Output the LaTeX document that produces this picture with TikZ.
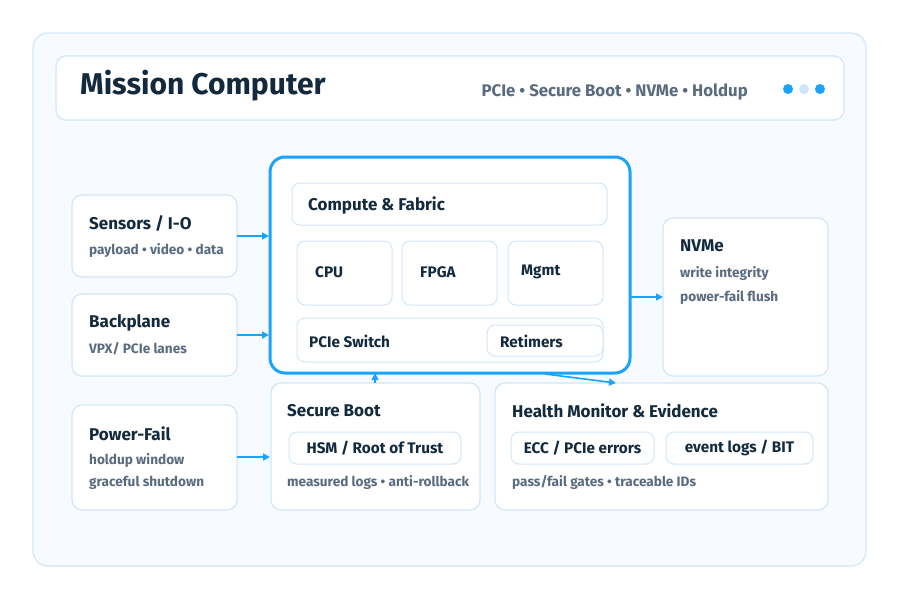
\documentclass[tikz,border=0pt]{standalone}
\usepackage{fontspec}
\setmainfont{Fira Sans}
\usetikzlibrary{arrows.meta}
\definecolor{bd}{HTML}{D3E6F8}
\definecolor{bg}{HTML}{F7FAFE}
\definecolor{ac}{HTML}{1AA3FF}
\definecolor{tx}{HTML}{13293D}
\definecolor{st}{HTML}{5A6B80}
\definecolor{lt}{HTML}{CFE6FA}
\begin{document}
\begin{tikzpicture}[x=1pt,y=-1pt,
 box/.style={draw=bd,line width=1.2pt,fill=white,rounded corners=10pt},
 ibox/.style={draw=bd,line width=1pt,fill=white,rounded corners=8pt},
 ttl/.style={anchor=west,text=tx,font=\fontsize{17}{19}\selectfont\bfseries,inner sep=0},
 lbl/.style={anchor=west,text=tx,font=\fontsize{15.3}{17}\selectfont\bfseries,inner sep=0},
 sub/.style={anchor=west,text=st,font=\fontsize{13.6}{15}\selectfont\bfseries,inner sep=0},
 arr/.style={draw=ac,line width=1.6pt,-{Triangle[length=7pt,width=7pt]}}]
\useasboundingbox (0,0) rectangle (900,600);
\fill[white] (0,0) rectangle (900,600);
\draw[draw=bd,fill=bg,line width=1.2pt,rounded corners=15pt] (33,33) rectangle (866,566);
\draw[box] (56,56) rectangle (844,120);
\node[anchor=west,text=tx,font=\fontsize{30}{32}\selectfont\bfseries,inner sep=0] (title) at (80,86) {Mission Computer};
\node[anchor=east,text=st,font=\fontsize{16.8}{18}\selectfont\bfseries,inner sep=0] (subt) at (748,92) {PCIe • Secure Boot • NVMe • Holdup};
\fill[ac] (788,89) circle (5); \fill[lt] (804,89) circle (5); \fill[ac] (820,89) circle (5);
% left
\draw[box] (72,195) rectangle (237,277); \coordinate (sen) at (237,236);
\node[ttl] at (89,224) {Sensors / I-O}; \node[sub] at (89,250) {payload • video • data};
\draw[box] (72,294) rectangle (237,376); \coordinate (bp) at (237,335);
\node[ttl] at (89,323) {Backplane}; \node[sub] at (89,349) {VPX/ PCIe lanes};
\draw[box] (72,405) rectangle (237,510); \coordinate (pf) at (237,457);
\node[ttl] at (89,434) {Power-Fail}; \node[sub] at (89,460) {holdup window}; \node[sub] at (89,483) {graceful shutdown};
% compute
\draw[draw=ac,line width=3pt,fill=white,rounded corners=15pt] (270,157) rectangle (630,373);
\draw[ibox] (292,183) rectangle (607,225); \node[ttl] at (308,205) {Compute \& Fabric};
\draw[ibox] (297,241) rectangle (392,305); \node[lbl] at (315,272) {CPU};
\draw[ibox] (402,241) rectangle (497,305); \node[lbl] at (420,272) {FPGA};
\draw[ibox] (508,241) rectangle (603,305); \node[lbl] at (521,272) {Mgmt};
\draw[ibox] (297,318) rectangle (603,362); \node[lbl] at (309,341) {PCIe Switch};
\draw[ibox] (487,325) rectangle (603,356); \node[lbl] at (500,341) {Retimers};
% nvme
\draw[box] (663,218) rectangle (828,376);
\node[ttl] at (680,246) {NVMe}; \node[sub] at (680,273) {write integrity}; \node[sub] at (680,297) {power-fail flush};
% secure boot
\draw[box] (271,383) rectangle (480,510);
\node[ttl] at (287,411) {Secure Boot};
\draw[ibox] (289,432) rectangle (461,464); \node[lbl,anchor=center] at (375,448) {HSM / Root of Trust};
\node[sub] at (287,482) {measured logs • anti-rollback};
% health
\draw[box] (495,383) rectangle (828,510);
\node[ttl] at (512,411) {Health Monitor \& Evidence};
\draw[ibox] (511,432) rectangle (654,464); \node[lbl,anchor=center] at (582.5,448) {ECC / PCIe errors};
\draw[ibox] (666,432) rectangle (813,464); \node[lbl,anchor=center] at (739.5,448) {event logs / BIT};
\node[sub] at (512,482) {pass/fail gates • traceable IDs};
% arrows
\draw[arr] (237,236) -- (269,236);
\draw[arr] (237,335) -- (269,335);
\draw[arr] (237,457) -- (270,457);
\draw[arr] (631,297) -- (663,297);
\draw[arr] (375,383) -- (375,373);
\draw[arr] (545,374) -- (616,383);
\end{tikzpicture}
\end{document}
